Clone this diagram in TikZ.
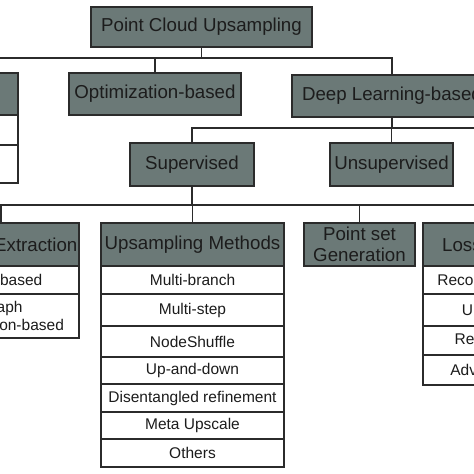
\documentclass[tikz,border=0pt]{standalone}
\usepackage{fontspec}
\setmainfont{Liberation Sans}
\usetikzlibrary{positioning}
\definecolor{headgray}{HTML}{6B7977}
\definecolor{edgegray}{HTML}{2B2B2B}
\definecolor{inkgray}{HTML}{1C1C1C}

\begin{document}
\begin{tikzpicture}[
  x=1pt, y=-1pt,
  head/.style={draw=edgegray, line width=1.2pt, fill=headgray, text=inkgray,
    inner sep=0pt, outer sep=0pt, align=center, font=\fontsize{18.7}{21.5}\selectfont},
  item/.style={draw=edgegray, line width=1.2pt, fill=white, text=inkgray,
    inner sep=0pt, outer sep=0pt, align=center, font=\fontsize{15.5}{18}\selectfont},
  link/.style={draw=edgegray, line width=1.2pt}
]
\useasboundingbox (0,0) rectangle (474,474);
\clip (0,0) rectangle (474,474);

% level 0 and 1
\node[head, minimum width=221, minimum height=40] (root) at (201.5,27) {Point Cloud Upsampling};
\node[head, minimum width=150, minimum height=42] (trad) at (-57,94) {};
\node[item, minimum width=150, minimum height=30, below=0pt of trad] (trad1) {};
\node[item, minimum width=150, minimum height=38, below=0pt of trad1] (trad2) {};
\node[head, minimum width=172, minimum height=42] (opt) at (155,94) {Optimization-based};
\node[head, minimum width=200, minimum height=42] (dl) at (392,96) {Deep Learning-based};

% level 2
\node[head, minimum width=124, minimum height=43] (sup) at (192,164.5) {Supervised};
\node[head, minimum width=123, minimum height=43] (unsup) at (391.5,164.5) {Unsupervised};
\coordinate (tier2far) at (490,128);

% level 3
\node[head, minimum width=156, minimum height=43] (fe) at (1,244.5) {Feature Extraction};
\node[item, minimum width=156, minimum height=28, below=0pt of fe] (fe1) {Point-based};
\node[item, minimum width=156, minimum height=44, below=0pt of fe1] (fe2) {Graph\\convolution-based};

\node[head, minimum width=183, minimum height=43] (um) at (192.5,244.5) {Upsampling Methods};
\node[item, minimum width=183, minimum height=28, below=0pt of um] (um1) {Multi-branch};
\node[item, minimum width=183, minimum height=32, below=0pt of um1] (um2) {Multi-step};
\node[item, minimum width=183, minimum height=31, below=0pt of um2] (um3) {NodeShuffle};
\node[item, minimum width=183, minimum height=27, below=0pt of um3] (um4) {Up-and-down};
\node[item, minimum width=183, minimum height=28, below=0pt of um4] (um5) {Disentangled refinement};
\node[item, minimum width=183, minimum height=27, below=0pt of um5] (um6) {Meta Upscale};
\node[item, minimum width=183, minimum height=28, below=0pt of um6] (um7) {Others};

\node[head, minimum width=111, minimum height=43] (psg) at (359.5,244.5) {Point set\\Generation};

\node[head, minimum width=164, minimum height=43] (loss) at (505,244.5) {Loss Functions};
\node[item, minimum width=164, minimum height=28, below=0pt of loss] (loss1) {Reconstruction loss};
\node[item, minimum width=164, minimum height=32, below=0pt of loss1] (loss2) {Uniform loss};
\node[item, minimum width=164, minimum height=29, below=0pt of loss2] (loss3) {Repulsion loss};
\node[item, minimum width=164, minimum height=30, below=0pt of loss3] (loss4) {Adversarial loss};

% connectors
\draw[link] (root.south) -- ++(0,11) coordinate (tier1);
\draw[link] (tier1) -| (trad.north);
\draw[link] (tier1) -| (opt.north);
\draw[link] (tier1) -| (dl.north);

\draw[link] (dl.south) -- ++(0,11) coordinate (tier2);
\draw[link] (tier2) -| (sup.north);
\draw[link] (tier2) -| (unsup.north);
\draw[link] (tier2) -- (tier2far);

\draw[link] (sup.south) -- ++(0,19) coordinate (tier3);
\draw[link] (tier3) -| (fe.north);
\draw[link] (tier3) -| (um.north);
\draw[link] (tier3) -| (psg.north);
\draw[link] (tier3) -| (loss.north);
\end{tikzpicture}
\end{document}
